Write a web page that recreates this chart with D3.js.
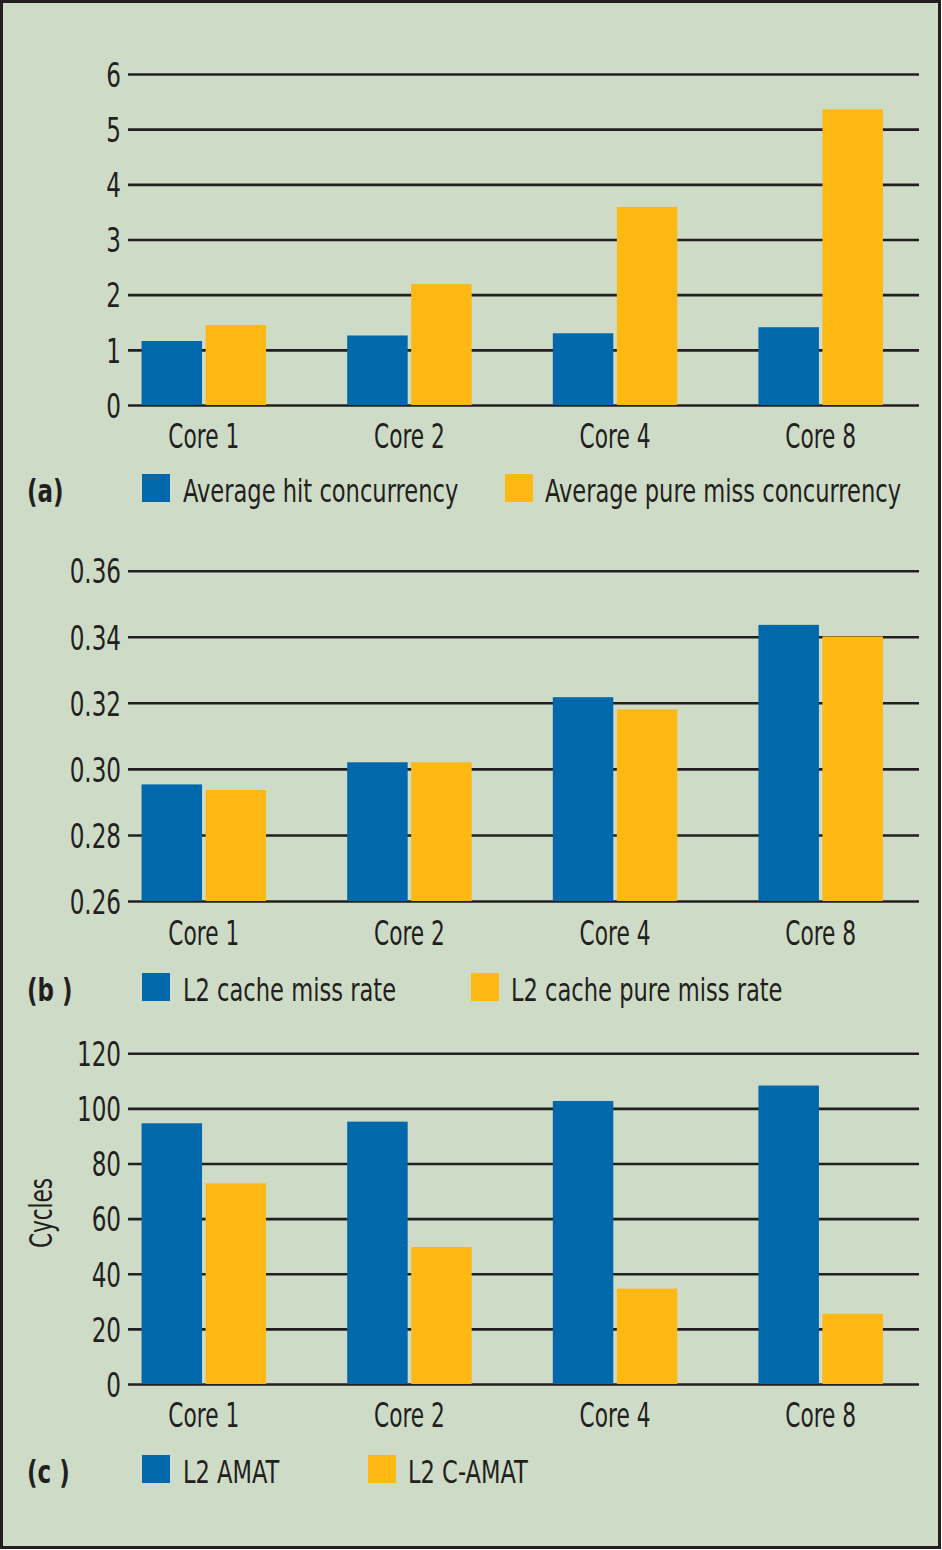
<!DOCTYPE html>
<html>
<head>
<meta charset="utf-8">
<script src="https://cdn.jsdelivr.net/npm/d3@7"></script>
<style>
  body { margin: 0; background: #fff; }
  text { font-family: "Liberation Sans Narrow", "DejaVu Sans Condensed", "Liberation Sans", sans-serif; fill: #231f20; }
</style>
</head>
<body>
<div id="chart"></div>
<script>
// data
var cores = ["Core 1", "Core 2", "Core 4", "Core 8"];

var hitConcurrency = [1.16, 1.26, 1.30, 1.41];
var pureMissConcurrency = [1.45, 2.19, 3.59, 5.36];

var missRate = [0.2953, 0.302, 0.3217, 0.3436];
var pureMissRate = [0.2936, 0.302, 0.318, 0.3401];

var amat = [94.6, 95.2, 102.7, 108.3];
var camat = [72.8, 49.7, 34.6, 25.5];

var ticksA = [0, 1, 2, 3, 4, 5, 6];
var ticksB = [0.26, 0.28, 0.30, 0.32, 0.34, 0.36];
var ticksC = [0, 20, 40, 60, 80, 100, 120];

var blue = "#0068ab", orange = "#fdb814", ink = "#231f20";
// squeeze text to look like a condensed face
var sxTick = 0.755, sxCat = 0.71, sxLeg = 0.785;

var W = 942, H = 1550;
var svg = d3.select("#chart").append("svg")
  .attr("width", W).attr("height", H);

svg.append("rect")
  .attr("x", 1.5).attr("y", 1.5).attr("width", W - 4).attr("height", H - 4)
  .attr("fill", "#cedcc7").attr("stroke", ink).attr("stroke-width", 3);

function label(x, y, txt, anchor, size, sx, bold) {
  return svg.append("text")
    .attr("transform", "translate(" + x + "," + y + ") scale(" + sx + ",1)")
    .attr("text-anchor", anchor || "start")
    .style("font-size", size + "px")
    .style("font-weight", bold ? "bold" : "normal")
    .text(txt);
}

var gridX0 = 128, gridX1 = 919;

var x = d3.scaleBand().domain(cores).range([101, 923.5]).padding(0);
var x1 = d3.scaleBand().domain([0, 1]).range([-62.25, 62.25]).paddingInner(0.055);

function panel(opt) {
  var y = d3.scaleLinear().domain(opt.domain).range(opt.range);

  var ax = svg.append("g")
    .attr("transform", "translate(" + gridX0 + ",0)")
    .call(d3.axisLeft(y).tickValues(opt.ticks).tickSize(-(gridX1 - gridX0))
      .tickPadding(0).tickFormat(opt.fmt));
  ax.select(".domain").remove();
  ax.selectAll(".tick line").attr("stroke", ink).attr("stroke-width", 2.6);
  ax.selectAll(".tick text")
    .attr("x", -7 / sxTick).attr("dy", "0.36em")
    .attr("transform", "scale(" + sxTick + ",1)")
    .attr("fill", ink)
    .style("font-size", "34px")
    .style("font-family", null);

  var series = [opt.a, opt.b];
  var colors = [blue, orange];
  series.forEach(function (vals, si) {
    svg.append("g").selectAll("rect")
      .data(vals)
      .enter().append("rect")
        .attr("x", function (d, i) { return x(cores[i]) + x.bandwidth() / 2 + x1(si); })
        .attr("y", function (d) { return y(d); })
        .attr("width", x1.bandwidth())
        .attr("height", function (d) { return y(opt.domain[0]) - y(d); })
        .attr("fill", colors[si]);
  });

  cores.forEach(function (c) {
    label(x(c) + x.bandwidth() / 2, opt.catY, c, "middle", 34, sxCat);
  });

  // legend
  svg.append("rect").attr("x", 142).attr("y", opt.legY - 28).attr("width", 28).attr("height", 28).attr("fill", blue);
  label(183, opt.legY, opt.names[0], "start", 32, sxLeg);
  svg.append("rect").attr("x", opt.leg2X).attr("y", opt.legY - 28).attr("width", 28).attr("height", 28).attr("fill", orange);
  label(opt.leg2X + 40, opt.legY, opt.names[1], "start", 32, sxLeg);

  label(27, opt.legY, opt.tag, "start", 32, 0.8, true);
}

panel({
  domain: [0, 6], range: [405, 74], ticks: ticksA, fmt: d3.format("d"),
  a: hitConcurrency, b: pureMissConcurrency,
  catY: 448, legY: 502, leg2X: 505, tag: "(a)",
  names: ["Average hit concurrency", "Average pure miss concurrency"]
});

panel({
  domain: [0.26, 0.36], range: [901, 570.7], ticks: ticksB, fmt: d3.format(".2f"),
  a: missRate, b: pureMissRate,
  catY: 945, legY: 1001, leg2X: 471, tag: "(b )",
  names: ["L2 cache miss rate", "L2 cache pure miss rate"]
});

panel({
  domain: [0, 120], range: [1384, 1053.3], ticks: ticksC, fmt: d3.format("d"),
  a: amat, b: camat,
  catY: 1427, legY: 1483, leg2X: 368, tag: "(c )",
  names: ["L2 AMAT", "L2 C-AMAT"]
});

// y axis title for panel (c)
svg.append("text")
  .attr("transform", "translate(52,1213) rotate(-90) scale(0.75,1)")
  .attr("text-anchor", "middle")
  .style("font-size", "32px")
  .text("Cycles");
</script>
</body>
</html>
